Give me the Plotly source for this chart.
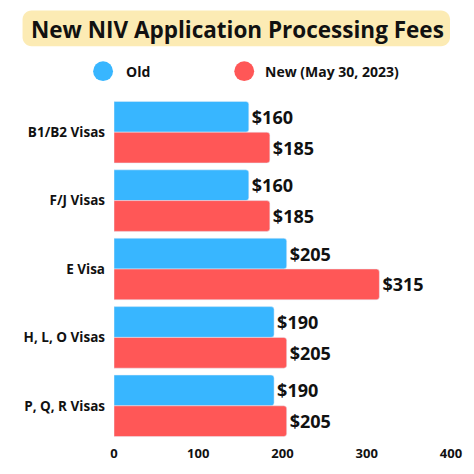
import plotly.graph_objects as go

categories = ["B1/B2 Visas", "F/J Visas", "E Visa", "H, L, O Visas", "P, Q, R Visas"]
old_fees = [160, 160, 205, 190, 190]
new_fees = [185, 185, 315, 205, 205]
series_names = ["Old", "New (May 30, 2023)"]
tick_vals = [0, 100, 200, 300, 400]

BLUE = "#38B6FF"
RED = "#FF5757"
FONT = "Open Sans"

W, H = 474, 474
ML, MR, MT, MB = 114, 21, 98, 32
PW, PH = W - ML - MR, H - MT - MB


def px2paper(x, y):
    return (x - ML) / PW, (H - y - MB) / PH


def rounded_rect(x0, y0, x1, y1, r):
    def P(x, y):
        px, py = px2paper(x, y)
        return f"{px:.5f},{py:.5f}"
    c = 0.55 * r
    path = (
        f"M {P(x0 + r, y0)} L {P(x1 - r, y0)} "
        f"C {P(x1 - r + c, y0)} {P(x1, y0 + r - c)} {P(x1, y0 + r)} "
        f"L {P(x1, y1 - r)} "
        f"C {P(x1, y1 - r + c)} {P(x1 - r + c, y1)} {P(x1 - r, y1)} "
        f"L {P(x0 + r, y1)} "
        f"C {P(x0 + r - c, y1)} {P(x0, y1 - r + c)} {P(x0, y1 - r)} "
        f"L {P(x0, y0 + r)} "
        f"C {P(x0, y0 + r - c)} {P(x0 + r - c, y0)} {P(x0 + r, y0)} Z"
    )
    return path


fig = go.Figure()
fig.add_trace(go.Bar(
    y=categories, x=old_fees, name=series_names[0], orientation="h",
    marker=dict(color=BLUE), texttemplate="$%{x}", textposition="outside",
    textfont=dict(family=FONT, size=18, color="#111111", weight="bold"),
    cliponaxis=False, showlegend=False,
))
fig.add_trace(go.Bar(
    y=categories, x=new_fees, name=series_names[1], orientation="h",
    marker=dict(color=RED), texttemplate="$%{x}", textposition="outside",
    textfont=dict(family=FONT, size=18, color="#111111", weight="bold"),
    cliponaxis=False, showlegend=False,
))

shapes = [dict(type="path", xref="paper", yref="paper",
               path=rounded_rect(22, 10, 452, 46, 9),
               fillcolor="#FCEBB4", line=dict(width=0), layer="below")]

# legend circles
for cx, col in [(103, BLUE), (245, RED)]:
    x0, y0 = px2paper(cx - 10, 81)
    x1, y1 = px2paper(cx + 10, 61)
    shapes.append(dict(type="circle", xref="paper", yref="paper",
                       x0=x0, y0=y0, x1=x1, y1=y1,
                       fillcolor=col, line=dict(width=0)))

annotations = []
tx, ty = px2paper(238, 29)
annotations.append(dict(text="New NIV Application Processing Fees", x=tx, y=ty,
                        xref="paper", yref="paper", showarrow=False,
                        xanchor="center", yanchor="middle",
                        font=dict(family=FONT, size=22.5, color="#111111", weight="bold")))
for lx, name in [(124, series_names[0]), (264, series_names[1])]:
    ax, ay = px2paper(lx, 71)
    annotations.append(dict(text=name, x=ax, y=ay, xref="paper", yref="paper",
                            showarrow=False, xanchor="left", yanchor="middle",
                            font=dict(family=FONT, size=14, color="#111111", weight="bold")))

fig.update_layout(
    width=W, height=H,
    margin=dict(l=ML, r=MR, t=MT, b=MB),
    paper_bgcolor="white", plot_bgcolor="white",
    barmode="group", bargap=0.1, bargroupgap=0.0,
    barcornerradius=3,
    shapes=shapes, annotations=annotations,
    xaxis=dict(range=[0, 400], tickvals=tick_vals, showgrid=False, zeroline=False,
               showline=False, ticks="", ticklabelstandoff=4,
               tickfont=dict(family=FONT, size=13, color="#111111", weight="bold")),
    yaxis=dict(autorange="reversed", showgrid=False, zeroline=False, showline=False,
               ticks="", ticklabelstandoff=8,
               tickfont=dict(family=FONT, size=13.5, color="#111111", weight="bold")),
)

fig.write_html("out.html")
